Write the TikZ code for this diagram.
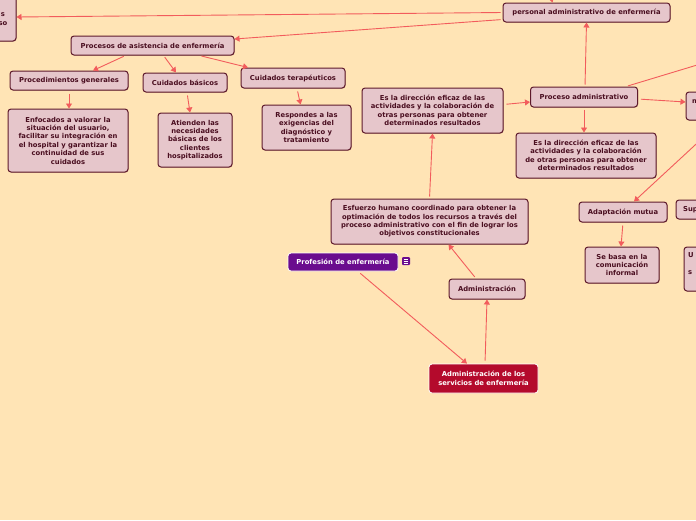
\documentclass[tikz,border=0pt]{standalone}
\usepackage{fontspec}
\setmainfont{DejaVu Sans}
\usetikzlibrary{arrows.meta,shadows}
\definecolor{bg}{HTML}{FFE4B5}
\definecolor{nfill}{HTML}{E6C6CB}
\definecolor{ndraw}{HTML}{5E1A2C}
\definecolor{ntext}{HTML}{4A0E20}
\definecolor{arr}{HTML}{F25C5C}
\definecolor{purp}{HTML}{6A0C8E}
\definecolor{redn}{HTML}{B40A2C}
\tikzset{
  txt/.style={font=\bfseries\fontsize{6.8}{8.4}\selectfont},
  box/.style={txt, draw=ndraw, fill=nfill, line width=1pt, rounded corners=3pt,
    text=ntext, align=center, inner sep=0pt,
    drop shadow={shadow xshift=0.6pt, shadow yshift=-0.6pt, opacity=0.35, fill=ndraw}},
  hibox/.style={txt, draw=white, line width=0.8pt, rounded corners=3pt,
    text=white, align=center, inner sep=0pt, fill=#1},
  sz/.style 2 args={minimum width=#1pt, minimum height=#2pt},
  frag/.style={txt, text=ntext, inner sep=0pt, anchor=west},
  con/.style={draw=arr, line width=0.9pt, -{Triangle[length=5pt,width=6pt]}, shorten <=2pt}
}
\begin{document}
\begin{tikzpicture}[x=1pt,y=-1pt]
\useasboundingbox (0,0) rectangle (696,520);
\fill[bg] (0,0) rectangle (696,520);
\clip (0,0) rectangle (696,520);

% partial nodes at the borders
\node[box, sz={112}{52}] (tl) at (-40,15) {};
\node[txt, text=ntext, align=center, inner sep=0pt] (tltext) at (3,19) {s\\so};
\node[box, sz={88}{28}] (rn) at (730,106) {};
\node[frag] (rntext) at (692,102) {m};
\node[box, sz={84}{19}] (sup) at (718,209.5) {};
\node[frag] (suptext) at (683,210) {Sup};
\node[box, sz={86}{44}] (ub) at (727,269) {};
\node[frag] (ubtext1) at (688,255) {U};
\node[frag] (ubtext2) at (688,273) {s};

% main nodes
\node[box, sz={167}{19}] (pa) at (586.5,12.5) {personal administrativo de enfermería};
\node[box, sz={163}{19}] (pra) at (152.5,45.5) {Procesos de asistencia de enfermería};
\node[box, sz={118}{19}] (pg) at (69,80.5) {Procedimientos generales};
\node[box, sz={84}{19}] (cb) at (185,82.5) {Cuidados básicos};
\node[box, sz={104}{20}] (ct) at (293,78) {Cuidados terapéuticos};
\node[box, sz={120}{63}] (enf) at (68,140.5) {Enfocados a valorar la\\situación del usuario,\\facilitar su integración en\\el hospital y garantizar la\\continuidad de sus\\cuidados};
\node[box, sz={74}{54}] (at) at (195,140) {Atienden las\\necesidades\\básicas de los\\clientes\\hospitalizados};
\node[box, sz={89}{45}] (resp) at (306.5,127.5) {Respondes a las\\exigencias del\\diagnóstico y\\tratamiento};
\node[box, sz={141}{45}] (ed1) at (432.5,110.5) {Es la dirección eficaz de las\\actividades y la colaboración de\\otras personas para obtener\\determinados resultados};
\node[box, sz={107}{20}] (proc) at (584,97) {Proceso administrativo};
\node[box, sz={140}{45}] (ed2) at (586,155.5) {Es la dirección eficaz de las\\actividades y la colaboración\\de otras personas para obtener\\determinados resultados};
\node[box, sz={197}{45}] (esf) at (429.5,221.5) {Esfuerzo humano coordinado para obtener la\\optimación de todos los recursos a través del\\proceso administrativo con el fin de lograr los\\objetivos constitucionales};
\node[hibox=purp, sz={110}{18}] (prof) at (343,262) {Profesión de enfermería};
\node[fill=purp, rounded corners=1pt, minimum size=8pt, inner sep=0pt] (icon) at (406,261) {};
\draw[white, line width=0.6pt] ([xshift=-2.3pt,yshift=2pt]icon.center) -- ++(4.6pt,0pt)
  ([xshift=-2.3pt]icon.center) -- ++(4.6pt,0pt)
  ([xshift=-2.3pt,yshift=-2pt]icon.center) -- ++(4.6pt,0pt);
\node[box, sz={76}{20}] (adm) at (487,289) {Administración};
\node[hibox=redn, sz={109}{29}] (serv) at (483.5,378.5) {Administración de los\\servicios de enfermería};
\node[box, sz={88}{20}] (adap) at (623,212) {Adaptación mutua};
\node[box, sz={74}{36}] (sebasa) at (622,265) {Se basa en la\\comunicación\\informal};

% off-frame ends
\coordinate (offA) at (760,46);
\coordinate (offB) at (760,85);
\coordinate (offC) at (546,-20);

% connectors
\draw[con] (pa.west) -- ([yshift=-2pt]tl.east);
\draw[con] ([yshift=-7pt]pa.west) -- ([yshift=6.5pt]pra.east);
\draw[con] ([xshift=-27pt]pra.south) -- ([xshift=24pt]pg.north);
\draw[con] ([xshift=11pt]pra.south) -- ([xshift=-9pt]cb.north);
\draw[con] ([xshift=47pt]pra.south) -- ([xshift=-45pt]ct.north);
\draw[con, shorten <=3pt] (pg.south) -- ([xshift=1pt]enf.north);
\draw[con, shorten <=3pt] ([xshift=2pt]cb.south) -- ([xshift=-5pt]at.north);
\draw[con, shorten <=3pt] ([xshift=4pt]ct.south) -- ([xshift=-6pt]resp.north);
\draw[con] (esf.north) -- (ed1.south);
\draw[con, shorten <=3pt] ([yshift=6pt]ed1.east) -- ([yshift=-5pt]proc.west);
\draw[con] ([xshift=1pt]proc.north) -- (pa.south);
\draw[con] (proc.south) -- (proc.south |- ed2.north);
\draw[con, shorten <=3pt] ([yshift=-2pt]proc.east) -- ([yshift=4pt]rn.west);
\draw[con, -] ([xshift=42pt]proc.north) -- (offA);
\draw[con] (offB) -- ([xshift=11pt]adap.north);
\draw[con, shorten <=3pt] (adap.south) -- ([xshift=-1pt]sebasa.north);
\draw[con] ([xshift=-11pt]adm.north) -- ([xshift=19pt]esf.south);
\draw[con, shorten <=3pt] ([xshift=1.5pt]serv.north) -- (adm.south);
\draw[con, shorten <=3pt] ([xshift=15pt]prof.south) -- ([xshift=-16.5pt]serv.north);
\draw[con] (offC) -- ([xshift=-34pt]pa.north);
\end{tikzpicture}
\end{document}
